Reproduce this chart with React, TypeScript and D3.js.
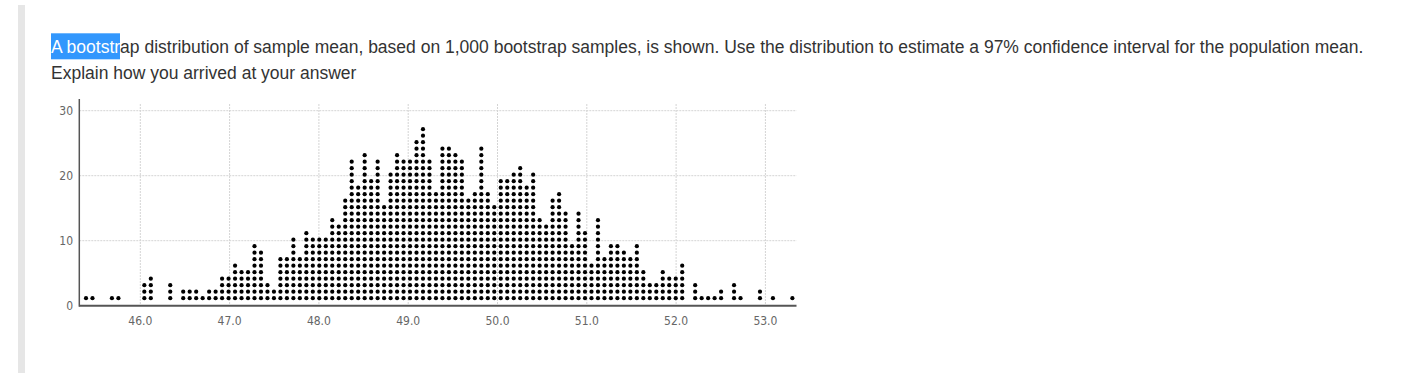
import React from 'react';
import * as d3 from 'd3';

// Bootstrap dot plot: one column per bin, counts
const binStart = 45.392;
const binWidth = 0.07257;
const counts = [
  1, 1, 0, 0, 1, 1, 0, 0, 0, 3,
  4, 0, 0, 3, 0, 2, 2, 2, 1, 2,
  2, 4, 4, 6, 5, 5, 9, 8, 3, 2,
  7, 7, 10, 7, 11, 10, 10, 10, 13, 12,
  16, 22, 18, 23, 19, 22, 15, 20, 23, 22,
  22, 25, 27, 22, 17, 24, 24, 23, 22, 16,
  17, 24, 17, 15, 19, 19, 20, 21, 18, 20,
  13, 12, 16, 17, 14, 9, 14, 11, 6, 13,
  7, 9, 9, 8, 7, 9, 5, 3, 3, 5,
  4, 4, 6, 0, 3, 1, 1, 1, 2, 0,
  3, 1, 0, 0, 2, 0, 1, 0, 0, 1,
];
const xTicks = [46, 47, 48, 49, 50, 51, 52, 53];
const yTicks = [0, 10, 20, 30];
const yGrid = [10, 20, 30];

const highlightText = 'A bootstr';
const line1Rest =
  'ap distribution of sample mean, based on 1,000 bootstrap samples, is shown. Use the distribution to estimate a 97% confidence interval for the population mean.';
const line2 = 'Explain how you arrived at your answer';

export default function App() {
  const W = 1410;
  const H = 373;
  const x = d3.scaleLinear().domain([46, 53]).range([140.3, 765.4]);
  const y = d3.scaleLinear().domain([0, 30]).range([305.7, 110.7]);
  const plotLeft = 79.3;
  const plotRight = 796.5;
  const plotTop = 99;

  const dots = counts.flatMap((c, i) =>
    d3.range(1, c + 1).map((k) => ({ v: binStart + i * binWidth, k }))
  );

  const bodyFont = "'Liberation Sans', Arial, sans-serif";
  const axisFont = "'DejaVu Sans Condensed', 'DejaVu Sans', sans-serif";

  return (
    <svg
      width={W}
      height={H}
      style={{ position: 'absolute', left: 0, top: 0, display: 'block', background: '#fff' }}
    >
      <rect x={18} y={5} width={7} height={H - 5} fill="#e6e6e6" />

      <rect x={51} y={33.3} width={69} height={26} fill="#3297fd" />
      <text x={51} y={52.5} fontFamily={bodyFont} fontSize={17.5} fill="#333">
        <tspan fill="#fff">{highlightText}</tspan>
        <tspan>{line1Rest}</tspan>
      </text>
      <text x={51} y={79} fontFamily={bodyFont} fontSize={17.5} fill="#333">
        {line2}
      </text>

      {/* grid */}
      {yGrid.map((t) => (
        <line
          key={'gy' + t}
          x1={plotLeft}
          x2={plotRight}
          y1={y(t)}
          y2={y(t)}
          stroke="#d4d4d4"
          strokeDasharray="2,1"
        />
      ))}
      {xTicks.map((t) => (
        <line
          key={'gx' + t}
          x1={x(t)}
          x2={x(t)}
          y1={104}
          y2={y(0)}
          stroke="#d4d4d4"
          strokeDasharray="2,1"
        />
      ))}

      {/* dots */}
      {dots.map((d, i) => (
        <circle key={i} cx={x(d.v)} cy={y(d.k) - 1} r={2.1} fill="#000" />
      ))}

      {/* axes */}
      <line x1={plotLeft} x2={plotLeft} y1={plotTop} y2={y(0) + 1} stroke="#555" strokeWidth={1.5} />
      <line x1={plotLeft} x2={plotRight} y1={y(0)} y2={y(0)} stroke="#555" strokeWidth={2} />

      {yTicks.map((t) => (
        <text
          key={'yt' + t}
          x={73}
          y={y(t)}
          dy="0.35em"
          textAnchor="end"
          fontFamily={axisFont}
          fontSize={12}
          fill="#666"
        >
          {t}
        </text>
      ))}
      {xTicks.map((t) => (
        <text
          key={'xt' + t}
          x={x(t)}
          y={321}
          dy="0.35em"
          textAnchor="middle"
          fontFamily={axisFont}
          fontSize={12}
          fill="#666"
        >
          {d3.format('.1f')(t)}
        </text>
      ))}
    </svg>
  );
}
